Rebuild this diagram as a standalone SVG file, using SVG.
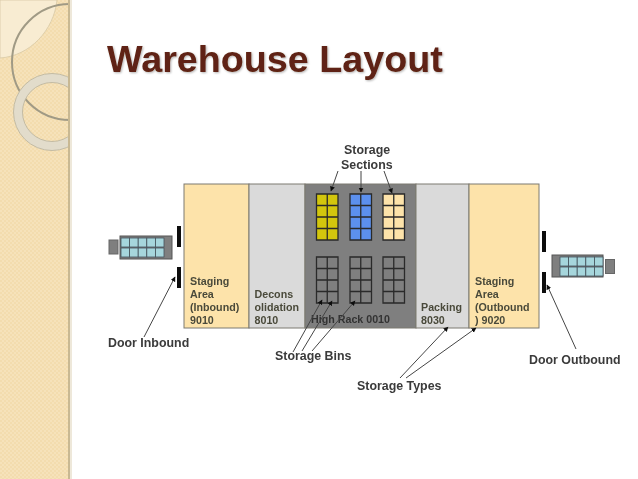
<svg xmlns="http://www.w3.org/2000/svg" width="638" height="479" viewBox="0 0 638 479">
<style>
.l{font-family:"Liberation Sans",Arial,sans-serif;font-weight:700;font-size:10.7px;fill:#4a4a3a}
.o{font-family:"Liberation Sans",Arial,sans-serif;font-weight:700;font-size:12.4px;fill:#3a3a3a}
.c{stroke:#454545;stroke-width:1;fill:none;marker-end:url(#a)}
.g{stroke:#2a2a2a;stroke-width:1.3;fill:none}
.w{fill:#a6d6dc;stroke:#44525a;stroke-width:.8}
.d{fill:#0d0d0d}
.z{stroke:#7d7a70;stroke-width:1}
</style>
<defs>
<marker id="a" markerWidth="6" markerHeight="6" refX="4.5" refY="2.5" orient="auto" markerUnits="userSpaceOnUse"><path d="M0 0L5 2.5L0 5z" fill="#111"/></marker>
<pattern id="p" width="4" height="4" patternUnits="userSpaceOnUse"><rect width="4" height="4" fill="#f6e2ba"/><rect width="2" height="2" fill="#f3dcae"/><rect x="2" y="2" width="2" height="2" fill="#f3dcae"/></pattern>
<clipPath id="s"><rect width="70" height="479"/></clipPath>
<filter id="b" x="-5%" y="-5%" width="110%" height="110%"><feGaussianBlur stdDeviation="0.35"/></filter>
<filter id="t" x="-5%" y="-20%" width="110%" height="140%"><feDropShadow dx="1" dy="1" stdDeviation="1" flood-color="#000" flood-opacity=".3"/></filter>
</defs>
<rect width="638" height="479" fill="#fff"/>
<g id="sidebar" clip-path="url(#s)">
<rect width="70" height="479" fill="url(#p)"/>
<path d="M0 0H57C54 30 30 56 0 58z" fill="#f8ecd2" stroke="#d8c9a6" stroke-width=".8"/>
<circle cx="70" cy="62" r="58" fill="none" stroke="#a09a85" stroke-width="2"/>
<circle cx="52" cy="112" r="34" fill="none" stroke="#e2dccb" stroke-width="9"/>
<circle cx="52" cy="112" r="38.500" fill="none" stroke="#b9b29c" stroke-width=".8"/>
<circle cx="52" cy="112" r="29.500" fill="none" stroke="#b9b29c" stroke-width=".8"/>
<rect x="68" width="2" height="479" fill="#c8b892"/>
</g>
<rect x="70" width="2" height="479" fill="#eee8da"/>
<text id="title" x="107" y="72" filter="url(#t)" style="font-family:'Liberation Sans',Arial,sans-serif;font-weight:700;font-size:37.700px;fill:#5e2412">Warehouse Layout</text>
<g filter="url(#b)">
<g id="staging-inbound"><rect x="184" y="184" width="65" height="144" fill="#fde3aa" class="z"/><text class="l"><tspan x="190" y="285">Staging</tspan><tspan x="190" y="298">Area</tspan><tspan x="190" y="311">(Inbound)</tspan><tspan x="190" y="324">9010</tspan></text></g>
<g id="deconsolidation"><rect x="249" y="184" width="56" height="144" fill="#dadada" class="z"/><text class="l"><tspan x="254.500" y="298">Decons</tspan><tspan x="254.500" y="311">olidation</tspan><tspan x="254.500" y="324">8010</tspan></text></g>
<g id="high-rack"><rect x="305" y="184" width="111" height="144" fill="#7f7f7f" class="z"/>
<g id="section-yellow"><rect x="316.500" y="194" width="21.500" height="46" fill="#d3c60c"/><path class="g" d="M316.500 194h21.500v46h-21.500zM327.250 194v46M316.500 205.500h21.500M316.500 217h21.500M316.500 228.500h21.500"/></g>
<g id="section-blue"><rect x="350" y="194" width="21.500" height="46" fill="#5c90ee"/><path class="g" d="M350 194h21.500v46h-21.500zM360.750 194v46M350 205.500h21.500M350 217h21.500M350 228.500h21.500"/></g>
<g id="section-cream"><rect x="383" y="194" width="21.500" height="46" fill="#fde3aa"/><path class="g" d="M383 194h21.500v46h-21.500zM393.750 194v46M383 205.500h21.500M383 217h21.500M383 228.500h21.500"/></g>
<g id="bins-1"><path class="g" d="M316.500 257h21.500v46h-21.500zM327.250 257v46M316.500 268.500h21.500M316.500 280h21.500M316.500 291.500h21.500"/></g>
<g id="bins-2"><path class="g" d="M350 257h21.500v46h-21.500zM360.750 257v46M350 268.500h21.500M350 280h21.500M350 291.500h21.500"/></g>
<g id="bins-3"><path class="g" d="M383 257h21.500v46h-21.500zM393.750 257v46M383 268.500h21.500M383 280h21.500M383 291.500h21.500"/></g>
<text class="l" x="311" y="323" style="fill:#333">High Rack 0010</text></g>
<g id="packing"><rect x="416" y="184" width="53" height="144" fill="#dadada" class="z"/><text class="l"><tspan x="421" y="311">Packing</tspan><tspan x="421" y="324">8030</tspan></text></g>
<g id="staging-outbound"><rect x="469" y="184" width="70" height="144" fill="#fde3aa" class="z"/><text class="l"><tspan x="475" y="285">Staging</tspan><tspan x="475" y="298">Area</tspan><tspan x="475" y="311">(Outbound</tspan><tspan x="475" y="324">) 9020</tspan></text></g>
<g id="truck-inbound"><rect x="109" y="240" width="9" height="14" fill="#7f7f7f" stroke="#666"/><rect x="120" y="236" width="52" height="23" fill="#7f7f7f" stroke="#555"/>
<rect class="w" x="121" y="238" width="8.600" height="9"/><rect class="w" x="129.600" y="238" width="8.600" height="9"/><rect class="w" x="138.200" y="238" width="8.600" height="9"/><rect class="w" x="146.800" y="238" width="8.600" height="9"/><rect class="w" x="155.400" y="238" width="8.600" height="9"/>
<rect class="w" x="121" y="248" width="8.600" height="9"/><rect class="w" x="129.600" y="248" width="8.600" height="9"/><rect class="w" x="138.200" y="248" width="8.600" height="9"/><rect class="w" x="146.800" y="248" width="8.600" height="9"/><rect class="w" x="155.400" y="248" width="8.600" height="9"/></g>
<g id="truck-outbound"><rect x="605.500" y="259.500" width="9" height="14" fill="#7f7f7f" stroke="#666"/><rect x="552" y="255" width="51" height="22" fill="#7f7f7f" stroke="#555"/>
<rect class="w" x="560" y="257" width="8.600" height="9"/><rect class="w" x="568.600" y="257" width="8.600" height="9"/><rect class="w" x="577.200" y="257" width="8.600" height="9"/><rect class="w" x="585.800" y="257" width="8.600" height="9"/><rect class="w" x="594.400" y="257" width="8.600" height="9"/>
<rect class="w" x="560" y="267" width="8.600" height="9"/><rect class="w" x="568.600" y="267" width="8.600" height="9"/><rect class="w" x="577.200" y="267" width="8.600" height="9"/><rect class="w" x="585.800" y="267" width="8.600" height="9"/><rect class="w" x="594.400" y="267" width="8.600" height="9"/></g>
<g id="doors"><rect class="d" x="177" y="226" width="4" height="21"/><rect class="d" x="177" y="267" width="4" height="21"/><rect class="d" x="542" y="231" width="4" height="21"/><rect class="d" x="542" y="272" width="4" height="21"/></g>
<g id="connectors">
<path class="c" d="M338 171L331 191"/><path class="c" d="M361 171V192"/><path class="c" d="M384 171L392 193"/>
<path class="c" d="M144 337L175 277"/><path class="c" d="M576 349L547 285"/>
<path class="c" d="M293 352L322 300"/><path class="c" d="M302 351L332 301"/><path class="c" d="M312 351L355 301"/>
<path class="c" d="M400 378L448 327"/><path class="c" d="M406 378L476 328"/>
</g>
<g id="labels">
<text class="o" x="344" y="154">Storage</text><text class="o" x="341" y="169">Sections</text>
<text class="o" x="108" y="347">Door Inbound</text>
<text class="o" x="275" y="360">Storage Bins</text>
<text class="o" x="357" y="390">Storage Types</text>
<text class="o" x="529" y="364">Door Outbound</text>
</g>
</g>
</svg>
